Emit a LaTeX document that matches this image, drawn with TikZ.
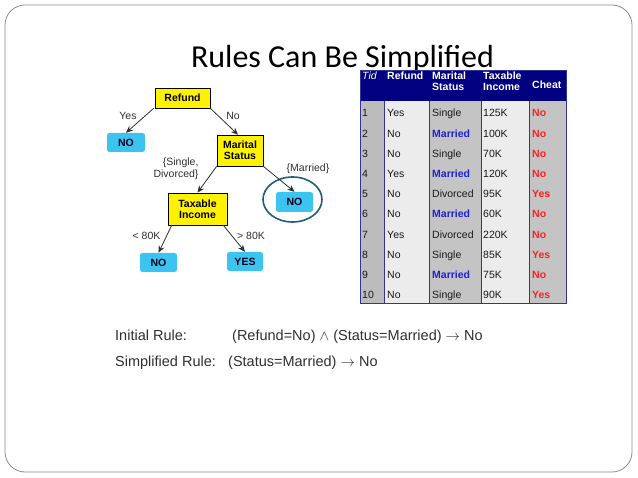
\documentclass[tikz,border=0pt]{standalone}
\usepackage{fontspec}
\setmainfont{Liberation Sans}
\newfontfamily\titlefont{Carlito}
\usetikzlibrary{arrows.meta,shapes.geometric,calc}
\definecolor{navy}{HTML}{000080}
\definecolor{mblue}{HTML}{2020D8}
\definecolor{cred}{HTML}{FF2020}
\definecolor{ltgray}{HTML}{ECECEC}
\definecolor{dkgray}{HTML}{C4C4C4}
\definecolor{tidgray}{HTML}{BCBCBC}
\definecolor{nobox}{HTML}{3CC4F0}
\definecolor{ring}{HTML}{1E5E7E}
\definecolor{txt}{HTML}{303030}
\newcommand\marr{\textcolor{mblue}{\bfseries Married}}
\begin{document}
\begin{tikzpicture}[x=1pt,y=-1pt,
  decision/.style={draw=black, line width=0.7pt, fill=yellow, font=\fontsize{10.5}{11.5}\selectfont\bfseries, align=center, inner sep=0pt, text=black},
  leaf/.style={fill=nobox, rounded corners=2.5pt, font=\fontsize{10.5}{12}\selectfont\bfseries, text=black!80!navy, inner sep=0pt, minimum height=19pt},
  edge/.style={draw=txt, line width=0.8pt, -{Stealth[length=7pt,width=6pt]}},
  elabel/.style={font=\fontsize{10.5}{12}\selectfont, text=txt, inner sep=0pt, align=center},
  cell/.style={font=\fontsize{10.5}{12}\selectfont, text=black!90, inner sep=0pt, anchor=base west},
  head/.style={font=\fontsize{10.5}{11.5}\selectfont\bfseries, text=white, inner sep=0pt, anchor=west, align=left},
  rule/.style={font=\fontsize{14.5}{16}\selectfont, text=txt, inner sep=0pt, anchor=base west}
]
\useasboundingbox (0,0) rectangle (638,478);
\fill[white] (0,0) rectangle (638,478);
\draw[black!45, line width=0.8pt, rounded corners=20pt] (5,5) rectangle (632,472);

% title
\node[font=\titlefont\fontsize{32}{36}\selectfont, anchor=base, inner sep=0pt] (title) at (342.5,68) {Rules Can Be Simplified};

% tree
\node[decision, minimum width=55pt, minimum height=20pt] (refund) at (182.5,98) {Refund};
\node[leaf, minimum width=38pt] (no1) at (126,142.5) {NO};
\node[decision, minimum width=46pt, minimum height=31pt] (marital) at (240,150.5) {Marital\\Status};
\node[leaf, minimum width=37pt, minimum height=20pt] (no2) at (294.5,202) {NO};
\node[draw=ring, line width=1.6pt, ellipse, minimum width=59pt, minimum height=45pt, inner sep=0pt] (circ) at (292.5,199.5) {};
\node[decision, minimum width=59pt, minimum height=32pt] (taxable) at (197.5,209) {Taxable\\Income};
\node[leaf, minimum width=37pt] (no3) at (158.5,262.5) {NO};
\node[leaf, minimum width=36pt] (yes) at (245,261.5) {YES};

\draw[edge] ($(refund.south west)+(-1,0)$) -- (no1.north);
\draw[edge] (refund.south east) -- ($(marital.north)+(-2,0)$);
\draw[edge] (marital.south west) -- (taxable.north);
\draw[edge] (marital.south east) -- (no2.north);
\draw[edge] ($(taxable.south west)+(4,0)$) -- (no3.north);
\draw[edge] ($(taxable.south east)+(-4,0)$) -- (yes.north);

\node[elabel] (lyes) at (128,116) {Yes};
\node[elabel] (lno) at (233,116) {No};
\node[elabel, align=right] (lsd) at (176,168.5) {\{Single,\\Divorced\}};
\node[elabel] (lmar) at (308,169) {\{Married\}};
\node[elabel] (llt) at (146.5,236) {< 80K};
\node[elabel] (lgt) at (251,236) {> 80K};

% table
\fill[tidgray] (360,101) rectangle (384,303);
\fill[ltgray] (384,101) rectangle (429,303);
\fill[dkgray] (429,101) rectangle (481,303);
\fill[ltgray] (481,101) rectangle (529,303);
\fill[dkgray] (529,101) rectangle (566,303);
\fill[navy] (360,70) rectangle (566,101);
\foreach \x in {384,429,481,529} \draw[navy!80, line width=0.8pt] (\x,101) -- (\x,303);
\draw[navy!80, line width=0.9pt] (360,70) rectangle (566,303);

\node[head, font=\fontsize{10.5}{11.5}\selectfont\itshape] (htid) at (362,76) {Tid};
\node[head] (href) at (387,76) {Refund};
\node[head] (hmar) at (432,81.5) {Marital\\Status};
\node[head] (htax) at (483,81.5) {Taxable\\Income};
\node[head] (hche) at (532,85) {Cheat};

\foreach \t/\rf/\ms/\ti/\ch [count=\k from 0] in {
  1/Yes/Single/125K/No, 2/No/\marr/100K/No, 3/No/Single/70K/No,
  4/Yes/\marr/120K/No, 5/No/Divorced/95K/Yes, 6/No/\marr/60K/No,
  7/Yes/Divorced/220K/No, 8/No/Single/85K/Yes, 9/No/\marr/75K/No,
  10/No/Single/90K/Yes} {
  \node[cell] (tid\t) at (362,{117+\k*20.2}) {\t};
  \node[cell] (ref\t) at (387,{117+\k*20.2}) {\rf};
  \node[cell] (mar\t) at (432,{117+\k*20.2}) {\ms};
  \node[cell] (tax\t) at (483,{117+\k*20.2}) {\ti};
  \node[cell, text=cred, font=\fontsize{10.5}{12}\selectfont\bfseries] (che\t) at (532,{117+\k*20.2}) {\ch};
}

% rules
\node[rule] (ir) at (115,341) {Initial Rule:};
\node[rule] (irt) at (232,341) {(Refund=No) $\wedge$ (Status=Married) $\rightarrow$ No};
\node[rule] (sr) at (115,367) {Simplified Rule:};
\node[rule] (srt) at (228,367) {(Status=Married) $\rightarrow$ No};
\end{tikzpicture}
\end{document}
